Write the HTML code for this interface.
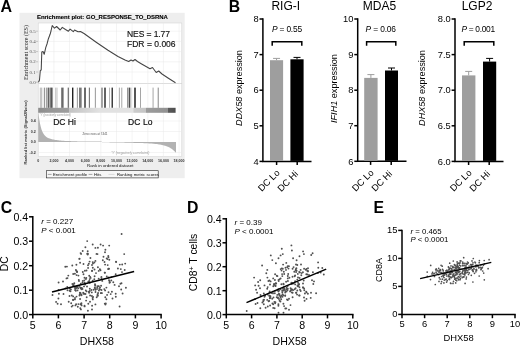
<!DOCTYPE html>
<html><head><meta charset="utf-8"><title>Figure</title>
<style>
html,body{margin:0;padding:0;background:#fff;}
body{width:520px;height:345px;overflow:hidden;}
svg{display:block;font-family:"Liberation Sans",sans-serif;}
</style></head>
<body>
<svg width="520" height="345" viewBox="0 0 520 345">
<rect width="520" height="345" fill="#fff"/>
<defs><filter id="soft" x="-2%" y="-2%" width="104%" height="104%"><feGaussianBlur stdDeviation="0.42"/></filter></defs>
<g id="panelA">
<text x="0.6" y="11.6" font-size="16" font-weight="bold">A</text>
<g filter="url(#soft)">
<rect x="19.5" y="12.8" width="165.2" height="165.4" fill="#eeeeee"/>
<text x="102.4" y="19" font-size="6.0" font-weight="bold" text-anchor="middle" fill="#000" stroke="#000" stroke-width="0.12" textLength="131" lengthAdjust="spacingAndGlyphs">Enrichment plot: GO_RESPONSE_TO_DSRNA</text>
<rect x="38.2" y="23" width="143.60000000000002" height="60.4" fill="#fff" stroke="#d0d0d0" stroke-width="0.5"/>
<text x="35.6" y="83.8" font-size="4.9" text-anchor="end" fill="#555" font-family="Liberation Serif, serif">0.0</text>
<line x1="36" x2="38.2" y1="82.2" y2="82.2" stroke="#888" stroke-width="0.4"/>
<text x="35.6" y="73.6" font-size="4.9" text-anchor="end" fill="#555" font-family="Liberation Serif, serif">0.1</text>
<line x1="36" x2="38.2" y1="72.0" y2="72.0" stroke="#888" stroke-width="0.4"/>
<text x="35.6" y="63.4" font-size="4.9" text-anchor="end" fill="#555" font-family="Liberation Serif, serif">0.2</text>
<line x1="36" x2="38.2" y1="61.8" y2="61.8" stroke="#888" stroke-width="0.4"/>
<text x="35.6" y="53.2" font-size="4.9" text-anchor="end" fill="#555" font-family="Liberation Serif, serif">0.3</text>
<line x1="36" x2="38.2" y1="51.6" y2="51.6" stroke="#888" stroke-width="0.4"/>
<text x="35.6" y="43.0" font-size="4.9" text-anchor="end" fill="#555" font-family="Liberation Serif, serif">0.4</text>
<line x1="36" x2="38.2" y1="41.4" y2="41.4" stroke="#888" stroke-width="0.4"/>
<text x="35.6" y="32.8" font-size="4.9" text-anchor="end" fill="#555" font-family="Liberation Serif, serif">0.5</text>
<line x1="36" x2="38.2" y1="31.2" y2="31.2" stroke="#888" stroke-width="0.4"/>
<text transform="translate(28.2,52.5) rotate(-90)" font-size="6.0" text-anchor="middle" fill="#222" font-family="Liberation Serif, serif" textLength="55" lengthAdjust="spacingAndGlyphs">Enrichment score (ES)</text>
<rect x="38.2" y="83.6" width="143.60000000000002" height="73" fill="#fff" stroke="#d0d0d0" stroke-width="0.5"/>
<g stroke="#e8e8e8" stroke-width="0.5"><line x1="38.2" x2="181.8" y1="72.0" y2="72.0"/><line x1="38.2" x2="181.8" y1="61.8" y2="61.8"/><line x1="38.2" x2="181.8" y1="51.6" y2="51.6"/><line x1="38.2" x2="181.8" y1="41.4" y2="41.4"/><line x1="38.2" x2="181.8" y1="31.2" y2="31.2"/><line x1="53.9" x2="53.9" y1="23" y2="83.4"/><line x1="53.9" x2="53.9" y1="83.6" y2="156.6"/><line x1="69.5" x2="69.5" y1="23" y2="83.4"/><line x1="69.5" x2="69.5" y1="83.6" y2="156.6"/><line x1="85.2" x2="85.2" y1="23" y2="83.4"/><line x1="85.2" x2="85.2" y1="83.6" y2="156.6"/><line x1="100.8" x2="100.8" y1="23" y2="83.4"/><line x1="100.8" x2="100.8" y1="83.6" y2="156.6"/><line x1="116.5" x2="116.5" y1="23" y2="83.4"/><line x1="116.5" x2="116.5" y1="83.6" y2="156.6"/><line x1="132.1" x2="132.1" y1="23" y2="83.4"/><line x1="132.1" x2="132.1" y1="83.6" y2="156.6"/><line x1="147.8" x2="147.8" y1="23" y2="83.4"/><line x1="147.8" x2="147.8" y1="83.6" y2="156.6"/><line x1="163.4" x2="163.4" y1="23" y2="83.4"/><line x1="163.4" x2="163.4" y1="83.6" y2="156.6"/><line x1="179.1" x2="179.1" y1="23" y2="83.4"/><line x1="179.1" x2="179.1" y1="83.6" y2="156.6"/><line x1="38.2" x2="181.8" y1="121" y2="121"/><line x1="38.2" x2="181.8" y1="131.5" y2="131.5"/><line x1="38.2" x2="181.8" y1="152.5" y2="152.5"/></g>
<path d="M38.5,82.2 L39.5,80 L40.3,70.5 L41.2,70 L41.8,52 L43,51.5 L44.2,54.3 L45.8,47.4 L47,44 L48.4,38.7 L50.1,34.3 L51,31 L52.2,25.6 L54.5,28.2 L56.6,26.5 L60.2,30 L62.3,27.4 L65.5,29.5 L68.4,31.2 L70.1,29.1 L73.3,31.7 L74.5,30 L78,31.7 L80.5,31.5 L84,33.5 L87.5,36 L96.2,42.2 L108,50.3 L118,56.5 L125,60 L128.7,61.5 L131,60 L133,61 L135,59.5 L137.5,61.5 L141.2,63.7 L150,68.7 L152.5,67.5 L156.2,72.5 L158.7,71 L162,74 L168,78 L175.5,82.8" fill="none" stroke="#444" stroke-width="1.05" stroke-linejoin="round"/>
<text x="127" y="36.6" font-size="8.5" fill="#111" stroke="#111" stroke-width="0.15" textLength="43" lengthAdjust="spacing">NES = 1.77</text>
<text x="127" y="47.1" font-size="8.5" fill="#111" stroke="#111" stroke-width="0.15" textLength="48.6" lengthAdjust="spacing">FDR = 0.006</text>
<rect x="39.8" y="87.6" width="2.5" height="20.3" fill="#c4c4c4"/><rect x="43.9" y="87.6" width="0.7" height="20.3" fill="#555"/><rect x="45.9" y="87.6" width="0.7" height="20.3" fill="#6a6a6a"/><rect x="47.7" y="87.6" width="1.0" height="20.3" fill="#222"/><rect x="49.6" y="87.6" width="0.8" height="20.3" fill="#333"/><rect x="50.7" y="87.6" width="1.0" height="20.3" fill="#111"/><rect x="51.9" y="87.6" width="0.7" height="20.3" fill="#555"/><rect x="55.5" y="87.6" width="0.6" height="20.3" fill="#9a9a9a"/><rect x="56.7" y="87.6" width="0.6" height="20.3" fill="#9a9a9a"/><rect x="61.2" y="87.6" width="2.4" height="20.3" fill="#6a6a6a"/><rect x="67.8" y="87.6" width="0.8" height="20.3" fill="#222"/><rect x="72.0" y="87.6" width="1.4" height="20.3" fill="#222"/><rect x="76.9" y="87.6" width="0.7" height="20.3" fill="#6a6a6a"/><rect x="79.4" y="87.6" width="1.2" height="20.3" fill="#222"/><rect x="81.4" y="87.6" width="0.6" height="20.3" fill="#6a6a6a"/><rect x="84.0" y="87.6" width="2.0" height="20.3" fill="#6a6a6a"/><rect x="88.9" y="87.6" width="0.7" height="20.3" fill="#222"/><rect x="94.9" y="87.6" width="0.7" height="20.3" fill="#6a6a6a"/><rect x="101.6" y="87.6" width="0.8" height="20.3" fill="#222"/><rect x="104.3" y="87.6" width="1.4" height="20.3" fill="#222"/><rect x="109.2" y="87.6" width="0.7" height="20.3" fill="#9a9a9a"/><rect x="111.6" y="87.6" width="1.2" height="20.3" fill="#111"/><rect x="118.9" y="87.6" width="0.7" height="20.3" fill="#808080"/><rect x="121.5" y="87.6" width="0.7" height="20.3" fill="#808080"/><rect x="127.4" y="87.6" width="0.8" height="20.3" fill="#555"/><rect x="128.8" y="87.6" width="1.0" height="20.3" fill="#222"/><rect x="130.5" y="87.6" width="0.7" height="20.3" fill="#808080"/><rect x="134.3" y="87.6" width="1.4" height="20.3" fill="#111"/><rect x="140.3" y="87.6" width="0.7" height="20.3" fill="#808080"/><rect x="152.7" y="87.6" width="0.7" height="20.3" fill="#808080"/><rect x="157.8" y="87.6" width="0.7" height="20.3" fill="#555"/>
<defs><linearGradient id="gb" gradientUnits="userSpaceOnUse" x1="38.2" x2="175.6" y1="0" y2="0"><stop offset="0.0000" stop-color="#8c8c8c"/><stop offset="0.0859" stop-color="#969696"/><stop offset="0.2205" stop-color="#9e9e9e"/><stop offset="0.2278" stop-color="#c4c4c4"/><stop offset="0.3406" stop-color="#d2d2d2"/><stop offset="0.4498" stop-color="#e2e2e2"/><stop offset="0.6900" stop-color="#e2e2e2"/><stop offset="0.6972" stop-color="#cccccc"/><stop offset="0.7846" stop-color="#c4c4c4"/><stop offset="0.7882" stop-color="#9c9c9c"/><stop offset="0.9447" stop-color="#929292"/><stop offset="0.9483" stop-color="#5a5a5a"/><stop offset="1.0000" stop-color="#4e4e4e"/></linearGradient></defs>
<rect x="38.2" y="107.8" width="137.4" height="5" fill="url(#gb)"/>
<path d="M38.2,142.0 L38.2,113.2 L38.4,113.2 L39.2,118.9 L40.0,123.6 L40.8,127.1 L41.6,129.7 L42.4,131.8 L43.2,133.3 L44.0,134.6 L44.8,135.5 L45.6,136.3 L46.4,136.9 L47.2,137.5 L48.0,137.9 L48.8,138.2 L49.6,138.6 L50.4,138.8 L51.2,139.1 L52.0,139.3 L52.8,139.5 L53.6,139.6 L54.4,139.8 L55.2,139.9 L56.0,140.0 L56.8,140.1 L57.6,140.2 L58.4,140.3 L59.2,140.4 L60.0,140.5 L60.8,140.6 L61.6,140.7 L62.4,140.7 L63.2,140.8 L64.0,140.8 L64.8,140.9 L65.6,140.9 L66.4,141.0 L67.2,141.0 L68.0,141.0 L68.8,141.1 L69.6,141.1 L70.4,141.1 L71.2,141.2 L72.0,141.2 L72.8,141.2 L73.6,141.3 L74.4,141.3 L75.2,141.3 L76.0,141.3 L76.8,141.3 L77.6,141.4 L78.4,141.4 L79.2,141.4 L80.0,141.4 L80.8,141.4 L81.6,141.4 L82.4,141.4 L83.2,141.5 L84.0,141.5 L84.8,141.5 L85.6,141.5 L86.4,141.5 L87.2,141.5 L88.0,141.5 L88.8,141.5 L89.6,141.5 L90.4,141.6 L91.2,141.6 L92.0,141.6 L92.8,141.6 L93.6,141.6 L94.4,141.6 L95.2,141.6 L96.0,141.6 L96.8,141.6 L97.6,141.6 L98.4,141.6 L99.2,141.6 L100.0,141.6 L100.8,141.6 L101.6,141.7 L102,141.8 L102,142.0 Z" fill="#b2b2b2"/>
<path d="M102,142.0 L102.0,142.2 L103.0,142.2 L104.0,142.2 L105.0,142.3 L106.0,142.3 L107.0,142.3 L108.0,142.3 L109.0,142.3 L110.0,142.4 L111.0,142.4 L112.0,142.4 L113.0,142.4 L114.0,142.4 L115.0,142.5 L116.0,142.5 L117.0,142.5 L118.0,142.5 L119.0,142.5 L120.0,142.5 L121.0,142.6 L122.0,142.6 L123.0,142.6 L124.0,142.6 L125.0,142.7 L126.0,142.7 L127.0,142.7 L128.0,142.7 L129.0,142.7 L130.0,142.8 L131.0,142.8 L132.0,142.8 L133.0,142.8 L134.0,142.9 L135.0,142.9 L136.0,142.9 L137.0,142.9 L138.0,143.0 L139.0,143.0 L140.0,143.0 L141.0,143.1 L142.0,143.1 L143.0,143.1 L144.0,143.2 L145.0,143.2 L146.0,143.2 L147.0,143.3 L148.0,143.3 L149.0,143.4 L150.0,143.5 L151.0,143.5 L152.0,143.6 L153.0,143.7 L154.0,143.8 L155.0,143.9 L156.0,144.0 L157.0,144.1 L158.0,144.2 L159.0,144.4 L160.0,144.5 L161.0,144.7 L162.0,144.9 L163.0,145.2 L164.0,145.4 L165.0,145.7 L166.0,146.0 L167.0,146.4 L168.0,146.8 L169.0,147.3 L170.0,147.8 L171.0,148.4 L172.0,149.1 L173.0,149.9 L174.0,150.7 L175.0,151.7 L176.0,152.8 L176,142.0 Z" fill="#b2b2b2"/>
<text x="39.6" y="116.4" font-size="2.9" fill="#9a9a9a" font-style="italic">'Y' (positively correlated)</text>
<text x="111.3" y="154.2" font-size="2.9" fill="#9a9a9a" font-style="italic" textLength="38" lengthAdjust="spacingAndGlyphs">'Y' (negatively correlated)</text>
<text x="82.5" y="135.4" font-size="3.0" fill="#555">Zero cross at 7441</text>
<text x="53.2" y="125" font-size="8.5" fill="#111" stroke="#111" stroke-width="0.2" textLength="22.6" lengthAdjust="spacing">DC Hi</text>
<text x="128" y="124.8" font-size="8.5" fill="#111" stroke="#111" stroke-width="0.2" textLength="24.6" lengthAdjust="spacing">DC Lo</text>
<text x="35.8" y="122.3" font-size="3.6" text-anchor="end" fill="#333" font-weight="bold">0.4</text>
<text x="35.8" y="132.8" font-size="3.6" text-anchor="end" fill="#333" font-weight="bold">0.2</text>
<text x="35.8" y="143.3" font-size="3.6" text-anchor="end" fill="#333" font-weight="bold">0.0</text>
<text x="35.8" y="153.8" font-size="3.6" text-anchor="end" fill="#333" font-weight="bold">-0.2</text>
<text transform="translate(27.4,132.5) rotate(-90)" font-size="4.1" font-weight="bold" text-anchor="middle" fill="#333" textLength="64" lengthAdjust="spacingAndGlyphs">Ranked list metric (Signal2Noise)</text>
<text x="38.2" y="161.5" font-size="3.6" text-anchor="middle" fill="#333" font-weight="bold">0</text>
<text x="53.9" y="161.5" font-size="3.6" text-anchor="middle" fill="#333" font-weight="bold">2,000</text>
<text x="69.5" y="161.5" font-size="3.6" text-anchor="middle" fill="#333" font-weight="bold">4,000</text>
<text x="85.2" y="161.5" font-size="3.6" text-anchor="middle" fill="#333" font-weight="bold">6,000</text>
<text x="100.8" y="161.5" font-size="3.6" text-anchor="middle" fill="#333" font-weight="bold">8,000</text>
<text x="116.5" y="161.5" font-size="3.6" text-anchor="middle" fill="#333" font-weight="bold">10,000</text>
<text x="132.1" y="161.5" font-size="3.6" text-anchor="middle" fill="#333" font-weight="bold">12,000</text>
<text x="147.8" y="161.5" font-size="3.6" text-anchor="middle" fill="#333" font-weight="bold">14,000</text>
<text x="163.4" y="161.5" font-size="3.6" text-anchor="middle" fill="#333" font-weight="bold">16,000</text>
<text x="179.1" y="161.5" font-size="3.6" text-anchor="middle" fill="#333" font-weight="bold">18,000</text>
<text x="110.2" y="167.4" font-size="4.35" text-anchor="middle" fill="#111">Rank in ordered dataset</text>
<rect x="46.4" y="170.7" width="111.8" height="7.2" fill="#f6f6f6" stroke="#222" stroke-width="0.6"/>
<g stroke-width="0.5"><line x1="47.8" x2="51.6" y1="174.4" y2="174.4" stroke="#555"/><line x1="88.6" x2="92.4" y1="174.4" y2="174.4" stroke="#555"/><line x1="108.5" x2="114.5" y1="174.4" y2="174.4" stroke="#bbb"/></g>
<text x="52.9" y="175.9" font-size="4.25" fill="#111">Enrichment profile</text>
<text x="94" y="175.9" font-size="4.25" fill="#111">Hits</text>
<text x="116.9" y="175.9" font-size="4.25" fill="#111">Ranking metric scores</text>
</g>
</g>
<g id="panelB">
<text x="228.7" y="12.1" font-size="15.8" font-weight="bold">B</text>
<text x="285.8" y="10.4" font-size="12" text-anchor="middle">RIG-I</text>
<path d="M262.9,18.25 V161.4 H311.5" fill="none" stroke="#000" stroke-width="1.5"/>
<line x1="259.5" x2="262.9" y1="19.0" y2="19.0" stroke="#000" stroke-width="1.5"/>
<text x="258.59999999999997" y="22.2" font-size="9.3" text-anchor="end">8</text>
<line x1="259.5" x2="262.9" y1="54.6" y2="54.6" stroke="#000" stroke-width="1.5"/>
<text x="258.59999999999997" y="57.8" font-size="9.3" text-anchor="end">7</text>
<line x1="259.5" x2="262.9" y1="90.2" y2="90.2" stroke="#000" stroke-width="1.5"/>
<text x="258.59999999999997" y="93.4" font-size="9.3" text-anchor="end">6</text>
<line x1="259.5" x2="262.9" y1="125.8" y2="125.8" stroke="#000" stroke-width="1.5"/>
<text x="258.59999999999997" y="129.0" font-size="9.3" text-anchor="end">5</text>
<line x1="259.5" x2="262.9" y1="161.4" y2="161.4" stroke="#000" stroke-width="1.5"/>
<text x="258.59999999999997" y="164.6" font-size="9.3" text-anchor="end">4</text>
<line x1="276.6" x2="276.6" y1="161.4" y2="165.0" stroke="#000" stroke-width="1.5"/>
<line x1="297.2" x2="297.2" y1="161.4" y2="165.0" stroke="#000" stroke-width="1.5"/>
<rect x="270" y="60.2" width="13.100000000000023" height="100.7" fill="#9e9e9e"/>
<rect x="290.4" y="59.3" width="13.200000000000045" height="101.60000000000001" fill="#000"/>
<path d="M276.55,60.2 V58.4 M273.05,58.4 H280.05" stroke="#9e9e9e" stroke-width="1" fill="none"/>
<path d="M297.0,59.3 V57.4 M293.5,57.4 H300.5" stroke="#000" stroke-width="1" fill="none"/>
<path d="M272.2,45.8 V41.8 H301.8 V45.8" fill="none" stroke="#000" stroke-width="1.5"/>
<text x="287.1" y="32.3" font-size="8.4" text-anchor="middle" textLength="30" lengthAdjust="spacing"><tspan font-style="italic">P</tspan> = 0.55</text>
<text transform="translate(280.40000000000003,173.4) rotate(-45)" font-size="9.3" text-anchor="end">DC Lo</text>
<text transform="translate(298.8,174.6) rotate(-45)" font-size="9.3" text-anchor="end">DC Hi</text>
<text transform="translate(242.4,88) rotate(-90)" font-size="9.1" text-anchor="middle"><tspan font-style="italic">DDX58</tspan> expression</text>
<text x="379.5" y="10.4" font-size="12" text-anchor="middle">MDA5</text>
<path d="M357.7,18.25 V161.3 H406.5" fill="none" stroke="#000" stroke-width="1.5"/>
<line x1="354.3" x2="357.7" y1="19.0" y2="19.0" stroke="#000" stroke-width="1.5"/>
<text x="353.4" y="22.2" font-size="9.3" text-anchor="end">10</text>
<line x1="354.3" x2="357.7" y1="54.6" y2="54.6" stroke="#000" stroke-width="1.5"/>
<text x="353.4" y="57.8" font-size="9.3" text-anchor="end">9</text>
<line x1="354.3" x2="357.7" y1="90.2" y2="90.2" stroke="#000" stroke-width="1.5"/>
<text x="353.4" y="93.4" font-size="9.3" text-anchor="end">8</text>
<line x1="354.3" x2="357.7" y1="125.7" y2="125.7" stroke="#000" stroke-width="1.5"/>
<text x="353.4" y="128.9" font-size="9.3" text-anchor="end">7</text>
<line x1="354.3" x2="357.7" y1="161.3" y2="161.3" stroke="#000" stroke-width="1.5"/>
<text x="353.4" y="164.5" font-size="9.3" text-anchor="end">6</text>
<line x1="370.6" x2="370.6" y1="161.3" y2="164.9" stroke="#000" stroke-width="1.5"/>
<line x1="391.2" x2="391.2" y1="161.3" y2="164.9" stroke="#000" stroke-width="1.5"/>
<rect x="364.2" y="77.9" width="13.400000000000034" height="82.9" fill="#9e9e9e"/>
<rect x="385" y="70.5" width="13" height="90.30000000000001" fill="#000"/>
<path d="M370.9,77.9 V74.6 M367.4,74.6 H374.4" stroke="#9e9e9e" stroke-width="1" fill="none"/>
<path d="M391.5,70.5 V68.0 M388.0,68.0 H395.0" stroke="#000" stroke-width="1" fill="none"/>
<path d="M366.6,45.8 V41.8 H395.8 V45.8" fill="none" stroke="#000" stroke-width="1.5"/>
<text x="380.8" y="32.3" font-size="8.4" text-anchor="middle" textLength="30.4" lengthAdjust="spacing"><tspan font-style="italic">P</tspan> = 0.06</text>
<text transform="translate(374.40000000000003,173.3) rotate(-45)" font-size="9.3" text-anchor="end">DC Lo</text>
<text transform="translate(392.8,174.5) rotate(-45)" font-size="9.3" text-anchor="end">DC Hi</text>
<text transform="translate(337.4,88.6) rotate(-90)" font-size="9.1" text-anchor="middle"><tspan font-style="italic">IFIH1</tspan> expression</text>
<text x="477" y="10.4" font-size="12" text-anchor="middle">LGP2</text>
<path d="M455,18.25 V161.4 H503.5" fill="none" stroke="#000" stroke-width="1.5"/>
<line x1="451.6" x2="455" y1="19.0" y2="19.0" stroke="#000" stroke-width="1.5"/>
<text x="450.7" y="22.2" font-size="9.3" text-anchor="end">8.0</text>
<line x1="451.6" x2="455" y1="54.6" y2="54.6" stroke="#000" stroke-width="1.5"/>
<text x="450.7" y="57.8" font-size="9.3" text-anchor="end">7.5</text>
<line x1="451.6" x2="455" y1="90.2" y2="90.2" stroke="#000" stroke-width="1.5"/>
<text x="450.7" y="93.4" font-size="9.3" text-anchor="end">7.0</text>
<line x1="451.6" x2="455" y1="125.8" y2="125.8" stroke="#000" stroke-width="1.5"/>
<text x="450.7" y="129.0" font-size="9.3" text-anchor="end">6.5</text>
<line x1="451.6" x2="455" y1="161.4" y2="161.4" stroke="#000" stroke-width="1.5"/>
<text x="450.7" y="164.6" font-size="9.3" text-anchor="end">6.0</text>
<line x1="468.6" x2="468.6" y1="161.4" y2="165.0" stroke="#000" stroke-width="1.5"/>
<line x1="489.2" x2="489.2" y1="161.4" y2="165.0" stroke="#000" stroke-width="1.5"/>
<rect x="462" y="75.4" width="13.399999999999977" height="85.5" fill="#9e9e9e"/>
<rect x="483" y="61.6" width="13.199999999999989" height="99.30000000000001" fill="#000"/>
<path d="M468.7,75.4 V71.4 M465.2,71.4 H472.2" stroke="#9e9e9e" stroke-width="1" fill="none"/>
<path d="M489.6,61.6 V58.4 M486.1,58.4 H493.1" stroke="#000" stroke-width="1" fill="none"/>
<path d="M464.2,45.8 V41.8 H493.8 V45.8" fill="none" stroke="#000" stroke-width="1.5"/>
<text x="478.3" y="32.3" font-size="8.4" text-anchor="middle" textLength="33.6" lengthAdjust="spacing"><tspan font-style="italic">P</tspan> = 0.001</text>
<text transform="translate(472.40000000000003,173.4) rotate(-45)" font-size="9.3" text-anchor="end">DC Lo</text>
<text transform="translate(490.8,174.6) rotate(-45)" font-size="9.3" text-anchor="end">DC Hi</text>
<text transform="translate(425.2,88) rotate(-90)" font-size="9.1" text-anchor="middle"><tspan font-style="italic">DHX58</tspan> expression</text>
</g>
<g id="panelC">
<text x="0.8" y="212.7" font-size="15.8" font-weight="bold">C</text>
<path d="M32.8,216.05 V314.6 H161.8" fill="none" stroke="#000" stroke-width="1.5"/>
<line x1="28.999999999999996" x2="32.8" y1="216.8" y2="216.8" stroke="#000" stroke-width="1.5"/>
<text x="28.199999999999996" y="220.7" font-size="10.6" text-anchor="end">0.4</text>
<line x1="28.999999999999996" x2="32.8" y1="241.2" y2="241.2" stroke="#000" stroke-width="1.5"/>
<text x="28.199999999999996" y="245.2" font-size="10.6" text-anchor="end">0.3</text>
<line x1="28.999999999999996" x2="32.8" y1="265.7" y2="265.7" stroke="#000" stroke-width="1.5"/>
<text x="28.199999999999996" y="269.6" font-size="10.6" text-anchor="end">0.2</text>
<line x1="28.999999999999996" x2="32.8" y1="290.2" y2="290.2" stroke="#000" stroke-width="1.5"/>
<text x="28.199999999999996" y="294.1" font-size="10.6" text-anchor="end">0.1</text>
<line x1="28.999999999999996" x2="32.8" y1="314.6" y2="314.6" stroke="#000" stroke-width="1.5"/>
<text x="28.199999999999996" y="318.5" font-size="10.6" text-anchor="end">0.0</text>
<line x1="32.8" x2="32.8" y1="314.6" y2="318.40000000000003" stroke="#000" stroke-width="1.5"/>
<text x="32.8" y="329" font-size="10.6" text-anchor="middle">5</text>
<line x1="58.4" x2="58.4" y1="314.6" y2="318.40000000000003" stroke="#000" stroke-width="1.5"/>
<text x="58.4" y="329" font-size="10.6" text-anchor="middle">6</text>
<line x1="84.1" x2="84.1" y1="314.6" y2="318.40000000000003" stroke="#000" stroke-width="1.5"/>
<text x="84.1" y="329" font-size="10.6" text-anchor="middle">7</text>
<line x1="109.7" x2="109.7" y1="314.6" y2="318.40000000000003" stroke="#000" stroke-width="1.5"/>
<text x="109.7" y="329" font-size="10.6" text-anchor="middle">8</text>
<line x1="135.4" x2="135.4" y1="314.6" y2="318.40000000000003" stroke="#000" stroke-width="1.5"/>
<text x="135.4" y="329" font-size="10.6" text-anchor="middle">9</text>
<line x1="161.1" x2="161.1" y1="314.6" y2="318.40000000000003" stroke="#000" stroke-width="1.5"/>
<text x="161.1" y="329" font-size="10.6" text-anchor="middle">10</text>
<g fill="#505050"><circle cx="120.8" cy="269.1" r="0.95"/><circle cx="92.1" cy="305.7" r="0.95"/><circle cx="85.8" cy="290.4" r="0.95"/><circle cx="89.1" cy="292.8" r="0.95"/><circle cx="89.8" cy="291.0" r="0.95"/><circle cx="68.3" cy="275.6" r="0.95"/><circle cx="105.4" cy="249.8" r="0.95"/><circle cx="91.4" cy="290.0" r="0.95"/><circle cx="81.3" cy="304.1" r="0.95"/><circle cx="107.1" cy="294.9" r="0.95"/><circle cx="70.5" cy="291.3" r="0.95"/><circle cx="115.7" cy="274.2" r="0.95"/><circle cx="73.2" cy="296.4" r="0.95"/><circle cx="101.1" cy="285.7" r="0.95"/><circle cx="77.5" cy="290.4" r="0.95"/><circle cx="103.1" cy="245.6" r="0.95"/><circle cx="69.5" cy="296.0" r="0.95"/><circle cx="74.9" cy="299.4" r="0.95"/><circle cx="109.5" cy="282.8" r="0.95"/><circle cx="63.0" cy="281.5" r="0.95"/><circle cx="84.5" cy="305.7" r="0.95"/><circle cx="80.4" cy="293.8" r="0.95"/><circle cx="75.7" cy="287.9" r="0.95"/><circle cx="52.5" cy="295.0" r="0.95"/><circle cx="107.7" cy="265.1" r="0.95"/><circle cx="109.3" cy="259.7" r="0.95"/><circle cx="115.7" cy="293.7" r="0.95"/><circle cx="104.8" cy="303.6" r="0.95"/><circle cx="80.3" cy="308.2" r="0.95"/><circle cx="108.3" cy="256.0" r="0.95"/><circle cx="87.2" cy="253.8" r="0.95"/><circle cx="79.1" cy="286.0" r="0.95"/><circle cx="93.1" cy="296.9" r="0.95"/><circle cx="97.9" cy="247.7" r="0.95"/><circle cx="73.2" cy="274.0" r="0.95"/><circle cx="87.9" cy="253.7" r="0.95"/><circle cx="98.7" cy="270.9" r="0.95"/><circle cx="101.4" cy="278.1" r="0.95"/><circle cx="66.9" cy="266.6" r="0.95"/><circle cx="67.3" cy="287.0" r="0.95"/><circle cx="100.9" cy="293.1" r="0.95"/><circle cx="93.0" cy="263.4" r="0.95"/><circle cx="90.1" cy="295.5" r="0.95"/><circle cx="80.5" cy="293.0" r="0.95"/><circle cx="74.3" cy="283.3" r="0.95"/><circle cx="80.8" cy="288.5" r="0.95"/><circle cx="102.0" cy="293.1" r="0.95"/><circle cx="85.4" cy="247.2" r="0.95"/><circle cx="105.3" cy="297.3" r="0.95"/><circle cx="89.2" cy="275.7" r="0.95"/><circle cx="111.4" cy="277.1" r="0.95"/><circle cx="81.5" cy="295.2" r="0.95"/><circle cx="101.4" cy="276.9" r="0.95"/><circle cx="81.8" cy="289.2" r="0.95"/><circle cx="83.5" cy="274.3" r="0.95"/><circle cx="78.8" cy="280.0" r="0.95"/><circle cx="104.9" cy="272.7" r="0.95"/><circle cx="76.4" cy="264.8" r="0.95"/><circle cx="79.0" cy="281.1" r="0.95"/><circle cx="77.8" cy="306.8" r="0.95"/><circle cx="94.3" cy="279.3" r="0.95"/><circle cx="89.2" cy="281.0" r="0.95"/><circle cx="79.5" cy="295.6" r="0.95"/><circle cx="87.7" cy="251.2" r="0.95"/><circle cx="104.3" cy="289.1" r="0.95"/><circle cx="100.0" cy="289.4" r="0.95"/><circle cx="82.8" cy="272.0" r="0.95"/><circle cx="81.6" cy="305.4" r="0.95"/><circle cx="75.2" cy="287.3" r="0.95"/><circle cx="92.7" cy="262.1" r="0.95"/><circle cx="78.4" cy="275.6" r="0.95"/><circle cx="97.7" cy="286.2" r="0.95"/><circle cx="104.7" cy="272.6" r="0.95"/><circle cx="75.9" cy="270.0" r="0.95"/><circle cx="69.8" cy="288.5" r="0.95"/><circle cx="90.6" cy="277.9" r="0.95"/><circle cx="78.2" cy="288.2" r="0.95"/><circle cx="88.1" cy="267.9" r="0.95"/><circle cx="77.0" cy="287.2" r="0.95"/><circle cx="86.1" cy="300.6" r="0.95"/><circle cx="65.3" cy="266.8" r="0.95"/><circle cx="72.4" cy="284.0" r="0.95"/><circle cx="105.1" cy="290.4" r="0.95"/><circle cx="83.2" cy="292.8" r="0.95"/><circle cx="88.3" cy="303.7" r="0.95"/><circle cx="69.6" cy="290.7" r="0.95"/><circle cx="108.1" cy="269.1" r="0.95"/><circle cx="119.8" cy="264.6" r="0.95"/><circle cx="81.9" cy="288.5" r="0.95"/><circle cx="56.1" cy="301.9" r="0.95"/><circle cx="73.2" cy="285.6" r="0.95"/><circle cx="101.5" cy="290.0" r="0.95"/><circle cx="80.5" cy="304.2" r="0.95"/><circle cx="88.3" cy="281.8" r="0.95"/><circle cx="98.1" cy="293.0" r="0.95"/><circle cx="124.2" cy="254.1" r="0.95"/><circle cx="88.9" cy="291.7" r="0.95"/><circle cx="85.1" cy="284.5" r="0.95"/><circle cx="90.2" cy="276.9" r="0.95"/><circle cx="103.5" cy="256.7" r="0.95"/><circle cx="109.9" cy="282.3" r="0.95"/><circle cx="97.1" cy="288.9" r="0.95"/><circle cx="80.6" cy="253.1" r="0.95"/><circle cx="82.7" cy="251.0" r="0.95"/><circle cx="84.6" cy="282.7" r="0.95"/><circle cx="109.0" cy="280.1" r="0.95"/><circle cx="97.2" cy="287.3" r="0.95"/><circle cx="82.5" cy="288.9" r="0.95"/><circle cx="79.5" cy="258.6" r="0.95"/><circle cx="87.7" cy="254.6" r="0.95"/><circle cx="100.0" cy="287.4" r="0.95"/><circle cx="109.0" cy="268.7" r="0.95"/><circle cx="85.9" cy="279.0" r="0.95"/><circle cx="95.6" cy="289.7" r="0.95"/><circle cx="92.8" cy="299.4" r="0.95"/><circle cx="87.2" cy="241.1" r="0.95"/><circle cx="108.6" cy="268.8" r="0.95"/><circle cx="109.2" cy="245.6" r="0.95"/><circle cx="100.6" cy="244.5" r="0.95"/><circle cx="108.6" cy="277.5" r="0.95"/><circle cx="119.6" cy="306.5" r="0.95"/><circle cx="80.8" cy="283.6" r="0.95"/><circle cx="75.1" cy="290.0" r="0.95"/><circle cx="79.7" cy="294.6" r="0.95"/><circle cx="89.6" cy="261.6" r="0.95"/><circle cx="86.5" cy="270.5" r="0.95"/><circle cx="96.5" cy="253.9" r="0.95"/><circle cx="66.5" cy="278.4" r="0.95"/><circle cx="92.6" cy="298.0" r="0.95"/><circle cx="108.5" cy="292.2" r="0.95"/><circle cx="117.9" cy="268.5" r="0.95"/><circle cx="102.3" cy="280.9" r="0.95"/><circle cx="105.8" cy="303.5" r="0.95"/><circle cx="91.8" cy="292.4" r="0.95"/><circle cx="95.3" cy="285.3" r="0.95"/><circle cx="101.0" cy="293.1" r="0.95"/><circle cx="121.6" cy="234.0" r="0.95"/><circle cx="87.0" cy="286.5" r="0.95"/><circle cx="95.4" cy="260.9" r="0.95"/><circle cx="122.6" cy="293.5" r="0.95"/><circle cx="80.1" cy="299.0" r="0.95"/><circle cx="71.7" cy="306.6" r="0.95"/><circle cx="96.7" cy="297.3" r="0.95"/><circle cx="116.0" cy="261.7" r="0.95"/><circle cx="73.1" cy="299.8" r="0.95"/><circle cx="80.1" cy="262.7" r="0.95"/><circle cx="76.1" cy="304.3" r="0.95"/><circle cx="89.7" cy="279.1" r="0.95"/><circle cx="79.4" cy="258.9" r="0.95"/><circle cx="94.6" cy="276.2" r="0.95"/><circle cx="76.0" cy="288.6" r="0.95"/><circle cx="87.9" cy="310.8" r="0.95"/><circle cx="95.4" cy="304.4" r="0.95"/><circle cx="90.0" cy="301.8" r="0.95"/><circle cx="124.7" cy="270.0" r="0.95"/><circle cx="105.1" cy="264.6" r="0.95"/><circle cx="84.9" cy="270.7" r="0.95"/><circle cx="92.1" cy="270.8" r="0.95"/><circle cx="106.4" cy="299.3" r="0.95"/><circle cx="95.4" cy="247.9" r="0.95"/><circle cx="80.9" cy="309.4" r="0.95"/><circle cx="86.6" cy="291.4" r="0.95"/><circle cx="97.6" cy="294.3" r="0.95"/><circle cx="92.0" cy="309.5" r="0.95"/><circle cx="105.0" cy="252.2" r="0.95"/><circle cx="112.5" cy="298.5" r="0.95"/><circle cx="95.3" cy="285.6" r="0.95"/><circle cx="73.7" cy="284.1" r="0.95"/><circle cx="92.8" cy="267.7" r="0.95"/><circle cx="92.7" cy="280.8" r="0.95"/><circle cx="57.6" cy="303.8" r="0.95"/><circle cx="82.5" cy="282.5" r="0.95"/><circle cx="90.4" cy="258.0" r="0.95"/><circle cx="75.8" cy="290.8" r="0.95"/><circle cx="94.8" cy="287.5" r="0.95"/><circle cx="98.9" cy="290.6" r="0.95"/><circle cx="114.6" cy="284.9" r="0.95"/><circle cx="109.4" cy="281.0" r="0.95"/><circle cx="115.8" cy="296.7" r="0.95"/><circle cx="99.3" cy="289.0" r="0.95"/><circle cx="94.4" cy="262.5" r="0.95"/><circle cx="71.2" cy="303.3" r="0.95"/><circle cx="73.6" cy="285.8" r="0.95"/><circle cx="58.6" cy="290.0" r="0.95"/><circle cx="68.7" cy="301.8" r="0.95"/><circle cx="84.3" cy="280.5" r="0.95"/><circle cx="79.9" cy="292.8" r="0.95"/><circle cx="89.8" cy="288.8" r="0.95"/><circle cx="92.0" cy="265.0" r="0.95"/><circle cx="125.2" cy="263.6" r="0.95"/><circle cx="91.9" cy="296.0" r="0.95"/><circle cx="92.0" cy="270.9" r="0.95"/><circle cx="111.9" cy="291.8" r="0.95"/><circle cx="94.5" cy="269.5" r="0.95"/><circle cx="122.0" cy="272.1" r="0.95"/><circle cx="81.3" cy="294.7" r="0.95"/><circle cx="84.5" cy="293.8" r="0.95"/><circle cx="104.5" cy="262.0" r="0.95"/><circle cx="102.8" cy="260.2" r="0.95"/><circle cx="82.8" cy="280.9" r="0.95"/><circle cx="84.0" cy="286.4" r="0.95"/><circle cx="111.3" cy="280.4" r="0.95"/><circle cx="58.9" cy="293.7" r="0.95"/><circle cx="78.4" cy="304.1" r="0.95"/><circle cx="77.1" cy="271.7" r="0.95"/><circle cx="119.0" cy="286.3" r="0.95"/><circle cx="107.5" cy="259.1" r="0.95"/><circle cx="70.9" cy="289.4" r="0.95"/><circle cx="89.8" cy="282.8" r="0.95"/><circle cx="63.5" cy="294.0" r="0.95"/><circle cx="108.4" cy="257.3" r="0.95"/><circle cx="121.5" cy="283.2" r="0.95"/><circle cx="122.2" cy="264.5" r="0.95"/><circle cx="67.5" cy="278.1" r="0.95"/><circle cx="84.5" cy="277.8" r="0.95"/><circle cx="88.8" cy="263.8" r="0.95"/><circle cx="94.9" cy="288.1" r="0.95"/><circle cx="106.8" cy="276.4" r="0.95"/><circle cx="83.5" cy="264.0" r="0.95"/><circle cx="83.6" cy="293.8" r="0.95"/><circle cx="81.4" cy="303.2" r="0.95"/><circle cx="81.1" cy="253.9" r="0.95"/><circle cx="75.1" cy="288.2" r="0.95"/><circle cx="71.8" cy="295.5" r="0.95"/><circle cx="116.2" cy="261.9" r="0.95"/><circle cx="80.2" cy="287.4" r="0.95"/><circle cx="76.5" cy="296.6" r="0.95"/><circle cx="75.0" cy="298.0" r="0.95"/><circle cx="96.0" cy="273.1" r="0.95"/><circle cx="98.8" cy="286.2" r="0.95"/><circle cx="67.5" cy="290.3" r="0.95"/><circle cx="74.9" cy="273.8" r="0.95"/><circle cx="99.9" cy="269.2" r="0.95"/><circle cx="84.6" cy="306.4" r="0.95"/><circle cx="106.7" cy="258.4" r="0.95"/><circle cx="65.4" cy="288.4" r="0.95"/><circle cx="110.7" cy="294.1" r="0.95"/><circle cx="120.4" cy="283.8" r="0.95"/><circle cx="72.3" cy="265.5" r="0.95"/><circle cx="95.5" cy="292.0" r="0.95"/><circle cx="105.4" cy="304.5" r="0.95"/><circle cx="121.2" cy="289.5" r="0.95"/><circle cx="95.4" cy="289.3" r="0.95"/><circle cx="97.9" cy="267.2" r="0.95"/><circle cx="76.6" cy="275.1" r="0.95"/><circle cx="85.5" cy="294.0" r="0.95"/><circle cx="86.7" cy="297.3" r="0.95"/><circle cx="77.0" cy="272.0" r="0.95"/><circle cx="88.0" cy="265.3" r="0.95"/><circle cx="97.8" cy="295.7" r="0.95"/><circle cx="58.4" cy="298.5" r="0.95"/><circle cx="95.0" cy="284.3" r="0.95"/><circle cx="76.5" cy="270.9" r="0.95"/><circle cx="61.0" cy="304.3" r="0.95"/><circle cx="92.7" cy="244.5" r="0.95"/><circle cx="97.5" cy="295.5" r="0.95"/><circle cx="100.5" cy="270.2" r="0.95"/><circle cx="106.4" cy="287.6" r="0.95"/><circle cx="77.0" cy="286.7" r="0.95"/><circle cx="97.5" cy="254.1" r="0.95"/><circle cx="125.9" cy="287.8" r="0.95"/><circle cx="81.7" cy="287.9" r="0.95"/><circle cx="86.3" cy="277.9" r="0.95"/><circle cx="98.7" cy="278.6" r="0.95"/><circle cx="113.3" cy="282.3" r="0.95"/><circle cx="72.7" cy="305.6" r="0.95"/><circle cx="73.1" cy="300.0" r="0.95"/><circle cx="58.6" cy="282.5" r="0.95"/><circle cx="93.6" cy="289.8" r="0.95"/><circle cx="75.4" cy="305.4" r="0.95"/></g>
<line x1="52.0" y1="291.9" x2="134.1" y2="271.6" stroke="#000" stroke-width="1.55"/>
<text x="41.3" y="224.3" font-size="8.0"><tspan font-style="italic">r</tspan> = 0.227</text>
<text x="41.3" y="232.9" font-size="8.0"><tspan font-style="italic">P</tspan> &lt; 0.001</text>
<text x="96.9" y="345.1" font-size="10.6" text-anchor="middle">DHX58</text>
<text transform="translate(7.8,263.7) rotate(-90)" font-size="10.3" text-anchor="middle">DC</text>
</g>
<g id="panelD">
<text x="187" y="212.7" font-size="15.8" font-weight="bold">D</text>
<path d="M226.3,218.05 V314.6 H353.55" fill="none" stroke="#000" stroke-width="1.5"/>
<line x1="222.5" x2="226.3" y1="218.8" y2="218.8" stroke="#000" stroke-width="1.5"/>
<text x="221.70000000000002" y="222.7" font-size="10.6" text-anchor="end">0.4</text>
<line x1="222.5" x2="226.3" y1="242.8" y2="242.8" stroke="#000" stroke-width="1.5"/>
<text x="221.70000000000002" y="246.7" font-size="10.6" text-anchor="end">0.3</text>
<line x1="222.5" x2="226.3" y1="266.7" y2="266.7" stroke="#000" stroke-width="1.5"/>
<text x="221.70000000000002" y="270.6" font-size="10.6" text-anchor="end">0.2</text>
<line x1="222.5" x2="226.3" y1="290.7" y2="290.7" stroke="#000" stroke-width="1.5"/>
<text x="221.70000000000002" y="294.6" font-size="10.6" text-anchor="end">0.1</text>
<line x1="222.5" x2="226.3" y1="314.6" y2="314.6" stroke="#000" stroke-width="1.5"/>
<text x="221.70000000000002" y="318.5" font-size="10.6" text-anchor="end">0.0</text>
<line x1="226.3" x2="226.3" y1="314.6" y2="318.40000000000003" stroke="#000" stroke-width="1.5"/>
<text x="226.3" y="329" font-size="10.6" text-anchor="middle">5</text>
<line x1="251.6" x2="251.6" y1="314.6" y2="318.40000000000003" stroke="#000" stroke-width="1.5"/>
<text x="251.6" y="329" font-size="10.6" text-anchor="middle">6</text>
<line x1="276.9" x2="276.9" y1="314.6" y2="318.40000000000003" stroke="#000" stroke-width="1.5"/>
<text x="276.9" y="329" font-size="10.6" text-anchor="middle">7</text>
<line x1="302.2" x2="302.2" y1="314.6" y2="318.40000000000003" stroke="#000" stroke-width="1.5"/>
<text x="302.2" y="329" font-size="10.6" text-anchor="middle">8</text>
<line x1="327.5" x2="327.5" y1="314.6" y2="318.40000000000003" stroke="#000" stroke-width="1.5"/>
<text x="327.5" y="329" font-size="10.6" text-anchor="middle">9</text>
<line x1="352.8" x2="352.8" y1="314.6" y2="318.40000000000003" stroke="#000" stroke-width="1.5"/>
<text x="352.8" y="329" font-size="10.6" text-anchor="middle">10</text>
<g fill="#505050"><circle cx="291.6" cy="289.1" r="0.95"/><circle cx="323.8" cy="274.5" r="0.95"/><circle cx="286.3" cy="262.9" r="0.95"/><circle cx="269.8" cy="298.3" r="0.95"/><circle cx="287.5" cy="290.3" r="0.95"/><circle cx="265.2" cy="295.6" r="0.95"/><circle cx="278.7" cy="281.1" r="0.95"/><circle cx="257.5" cy="303.0" r="0.95"/><circle cx="303.1" cy="251.4" r="0.95"/><circle cx="260.0" cy="288.3" r="0.95"/><circle cx="268.6" cy="301.3" r="0.95"/><circle cx="270.4" cy="296.3" r="0.95"/><circle cx="300.6" cy="269.9" r="0.95"/><circle cx="285.4" cy="291.3" r="0.95"/><circle cx="284.5" cy="288.9" r="0.95"/><circle cx="297.3" cy="290.5" r="0.95"/><circle cx="284.4" cy="288.9" r="0.95"/><circle cx="283.6" cy="284.4" r="0.95"/><circle cx="287.7" cy="266.1" r="0.95"/><circle cx="283.1" cy="264.6" r="0.95"/><circle cx="279.5" cy="294.2" r="0.95"/><circle cx="286.1" cy="281.7" r="0.95"/><circle cx="288.9" cy="266.2" r="0.95"/><circle cx="302.9" cy="272.2" r="0.95"/><circle cx="279.0" cy="290.4" r="0.95"/><circle cx="307.4" cy="274.5" r="0.95"/><circle cx="263.3" cy="301.2" r="0.95"/><circle cx="275.1" cy="274.3" r="0.95"/><circle cx="282.8" cy="254.1" r="0.95"/><circle cx="295.1" cy="281.3" r="0.95"/><circle cx="277.4" cy="276.1" r="0.95"/><circle cx="280.6" cy="297.5" r="0.95"/><circle cx="293.7" cy="283.6" r="0.95"/><circle cx="303.7" cy="280.5" r="0.95"/><circle cx="254.1" cy="277.6" r="0.95"/><circle cx="314.0" cy="281.4" r="0.95"/><circle cx="265.6" cy="307.8" r="0.95"/><circle cx="298.6" cy="284.7" r="0.95"/><circle cx="274.8" cy="293.2" r="0.95"/><circle cx="318.3" cy="267.8" r="0.95"/><circle cx="296.6" cy="270.7" r="0.95"/><circle cx="301.0" cy="264.5" r="0.95"/><circle cx="273.0" cy="293.4" r="0.95"/><circle cx="272.2" cy="298.8" r="0.95"/><circle cx="303.0" cy="287.4" r="0.95"/><circle cx="283.2" cy="295.3" r="0.95"/><circle cx="274.9" cy="280.0" r="0.95"/><circle cx="277.3" cy="294.9" r="0.95"/><circle cx="292.5" cy="276.7" r="0.95"/><circle cx="297.3" cy="279.6" r="0.95"/><circle cx="256.1" cy="289.7" r="0.95"/><circle cx="292.6" cy="268.8" r="0.95"/><circle cx="270.8" cy="255.4" r="0.95"/><circle cx="264.5" cy="285.4" r="0.95"/><circle cx="285.2" cy="292.6" r="0.95"/><circle cx="297.7" cy="286.3" r="0.95"/><circle cx="246.7" cy="311.0" r="0.95"/><circle cx="291.9" cy="250.5" r="0.95"/><circle cx="260.5" cy="295.0" r="0.95"/><circle cx="308.0" cy="268.3" r="0.95"/><circle cx="278.4" cy="304.3" r="0.95"/><circle cx="255.6" cy="304.0" r="0.95"/><circle cx="278.5" cy="312.8" r="0.95"/><circle cx="257.1" cy="292.7" r="0.95"/><circle cx="277.9" cy="297.5" r="0.95"/><circle cx="277.9" cy="298.1" r="0.95"/><circle cx="299.5" cy="256.3" r="0.95"/><circle cx="318.1" cy="262.4" r="0.95"/><circle cx="296.6" cy="260.3" r="0.95"/><circle cx="312.6" cy="253.2" r="0.95"/><circle cx="304.1" cy="288.5" r="0.95"/><circle cx="258.6" cy="285.7" r="0.95"/><circle cx="283.0" cy="288.8" r="0.95"/><circle cx="270.1" cy="305.5" r="0.95"/><circle cx="307.2" cy="270.8" r="0.95"/><circle cx="267.2" cy="288.8" r="0.95"/><circle cx="289.4" cy="277.7" r="0.95"/><circle cx="320.7" cy="272.6" r="0.95"/><circle cx="263.8" cy="293.5" r="0.95"/><circle cx="274.0" cy="284.0" r="0.95"/><circle cx="287.9" cy="281.0" r="0.95"/><circle cx="275.3" cy="285.5" r="0.95"/><circle cx="276.2" cy="283.5" r="0.95"/><circle cx="279.6" cy="300.8" r="0.95"/><circle cx="292.6" cy="292.7" r="0.95"/><circle cx="307.9" cy="270.9" r="0.95"/><circle cx="292.1" cy="282.9" r="0.95"/><circle cx="283.5" cy="312.8" r="0.95"/><circle cx="304.3" cy="290.3" r="0.95"/><circle cx="300.0" cy="289.8" r="0.95"/><circle cx="282.2" cy="290.8" r="0.95"/><circle cx="267.7" cy="294.5" r="0.95"/><circle cx="292.2" cy="289.8" r="0.95"/><circle cx="264.0" cy="299.8" r="0.95"/><circle cx="288.5" cy="268.6" r="0.95"/><circle cx="298.0" cy="277.5" r="0.95"/><circle cx="268.4" cy="281.0" r="0.95"/><circle cx="284.9" cy="290.1" r="0.95"/><circle cx="299.2" cy="272.0" r="0.95"/><circle cx="292.6" cy="297.3" r="0.95"/><circle cx="274.6" cy="308.3" r="0.95"/><circle cx="287.6" cy="286.0" r="0.95"/><circle cx="299.6" cy="278.0" r="0.95"/><circle cx="278.5" cy="258.2" r="0.95"/><circle cx="267.8" cy="306.5" r="0.95"/><circle cx="274.6" cy="284.1" r="0.95"/><circle cx="278.8" cy="294.0" r="0.95"/><circle cx="266.3" cy="273.3" r="0.95"/><circle cx="274.4" cy="301.9" r="0.95"/><circle cx="282.5" cy="296.7" r="0.95"/><circle cx="280.7" cy="269.1" r="0.95"/><circle cx="277.3" cy="290.4" r="0.95"/><circle cx="278.5" cy="291.5" r="0.95"/><circle cx="297.8" cy="273.9" r="0.95"/><circle cx="279.0" cy="299.0" r="0.95"/><circle cx="282.3" cy="276.1" r="0.95"/><circle cx="284.2" cy="289.2" r="0.95"/><circle cx="255.2" cy="285.4" r="0.95"/><circle cx="260.3" cy="308.2" r="0.95"/><circle cx="278.4" cy="289.2" r="0.95"/><circle cx="285.2" cy="295.5" r="0.95"/><circle cx="279.4" cy="295.6" r="0.95"/><circle cx="255.2" cy="299.1" r="0.95"/><circle cx="273.3" cy="286.3" r="0.95"/><circle cx="282.1" cy="274.1" r="0.95"/><circle cx="295.8" cy="269.2" r="0.95"/><circle cx="304.1" cy="268.7" r="0.95"/><circle cx="281.8" cy="268.4" r="0.95"/><circle cx="269.5" cy="292.6" r="0.95"/><circle cx="298.4" cy="286.1" r="0.95"/><circle cx="296.1" cy="292.7" r="0.95"/><circle cx="275.7" cy="283.3" r="0.95"/><circle cx="296.0" cy="264.5" r="0.95"/><circle cx="283.4" cy="283.7" r="0.95"/><circle cx="294.6" cy="276.3" r="0.95"/><circle cx="263.4" cy="299.9" r="0.95"/><circle cx="307.9" cy="293.7" r="0.95"/><circle cx="294.7" cy="289.2" r="0.95"/><circle cx="300.7" cy="291.0" r="0.95"/><circle cx="285.3" cy="308.5" r="0.95"/><circle cx="283.8" cy="271.7" r="0.95"/><circle cx="260.2" cy="280.3" r="0.95"/><circle cx="272.9" cy="291.7" r="0.95"/><circle cx="270.3" cy="297.5" r="0.95"/><circle cx="263.8" cy="304.2" r="0.95"/><circle cx="303.0" cy="287.5" r="0.95"/><circle cx="299.0" cy="284.2" r="0.95"/><circle cx="290.1" cy="291.4" r="0.95"/><circle cx="291.4" cy="245.4" r="0.95"/><circle cx="295.1" cy="275.5" r="0.95"/><circle cx="276.8" cy="275.7" r="0.95"/><circle cx="306.5" cy="298.9" r="0.95"/><circle cx="262.1" cy="265.5" r="0.95"/><circle cx="291.4" cy="282.8" r="0.95"/><circle cx="293.6" cy="267.1" r="0.95"/><circle cx="297.5" cy="285.5" r="0.95"/><circle cx="317.9" cy="273.1" r="0.95"/><circle cx="270.3" cy="297.7" r="0.95"/><circle cx="282.3" cy="292.3" r="0.95"/><circle cx="281.4" cy="284.3" r="0.95"/><circle cx="299.9" cy="272.5" r="0.95"/><circle cx="273.5" cy="297.5" r="0.95"/><circle cx="303.0" cy="283.5" r="0.95"/><circle cx="275.9" cy="263.3" r="0.95"/><circle cx="278.5" cy="280.0" r="0.95"/><circle cx="283.8" cy="287.3" r="0.95"/><circle cx="269.2" cy="300.9" r="0.95"/><circle cx="304.9" cy="293.5" r="0.95"/><circle cx="289.0" cy="298.8" r="0.95"/><circle cx="280.6" cy="289.3" r="0.95"/><circle cx="258.1" cy="282.0" r="0.95"/><circle cx="281.5" cy="270.6" r="0.95"/><circle cx="269.4" cy="280.5" r="0.95"/><circle cx="322.3" cy="268.0" r="0.95"/><circle cx="274.0" cy="285.0" r="0.95"/><circle cx="286.8" cy="289.3" r="0.95"/><circle cx="282.5" cy="294.3" r="0.95"/><circle cx="291.4" cy="289.8" r="0.95"/><circle cx="270.6" cy="281.4" r="0.95"/><circle cx="281.8" cy="248.7" r="0.95"/><circle cx="280.5" cy="296.4" r="0.95"/><circle cx="275.6" cy="286.0" r="0.95"/><circle cx="273.2" cy="304.2" r="0.95"/><circle cx="311.0" cy="292.8" r="0.95"/><circle cx="309.0" cy="275.0" r="0.95"/><circle cx="267.3" cy="269.9" r="0.95"/><circle cx="281.2" cy="299.2" r="0.95"/><circle cx="285.5" cy="267.7" r="0.95"/><circle cx="295.6" cy="270.4" r="0.95"/><circle cx="312.9" cy="272.2" r="0.95"/><circle cx="290.6" cy="288.3" r="0.95"/><circle cx="260.9" cy="296.2" r="0.95"/><circle cx="310.7" cy="297.9" r="0.95"/><circle cx="306.3" cy="274.3" r="0.95"/><circle cx="269.7" cy="291.5" r="0.95"/><circle cx="313.3" cy="284.0" r="0.95"/><circle cx="297.3" cy="265.0" r="0.95"/><circle cx="270.0" cy="284.5" r="0.95"/><circle cx="293.2" cy="290.1" r="0.95"/><circle cx="295.6" cy="288.2" r="0.95"/><circle cx="275.1" cy="303.3" r="0.95"/><circle cx="290.7" cy="290.4" r="0.95"/><circle cx="275.4" cy="302.3" r="0.95"/><circle cx="262.4" cy="302.5" r="0.95"/><circle cx="296.3" cy="292.7" r="0.95"/><circle cx="307.9" cy="271.4" r="0.95"/><circle cx="287.0" cy="299.5" r="0.95"/><circle cx="316.1" cy="293.3" r="0.95"/><circle cx="293.1" cy="258.2" r="0.95"/><circle cx="281.3" cy="295.8" r="0.95"/><circle cx="284.2" cy="274.0" r="0.95"/><circle cx="306.5" cy="269.0" r="0.95"/><circle cx="267.2" cy="299.9" r="0.95"/><circle cx="287.8" cy="300.0" r="0.95"/><circle cx="280.6" cy="255.4" r="0.95"/><circle cx="267.4" cy="277.6" r="0.95"/><circle cx="269.4" cy="295.8" r="0.95"/><circle cx="283.4" cy="303.7" r="0.95"/><circle cx="282.8" cy="268.8" r="0.95"/><circle cx="296.1" cy="272.1" r="0.95"/><circle cx="271.5" cy="293.1" r="0.95"/><circle cx="287.8" cy="276.0" r="0.95"/><circle cx="306.2" cy="291.7" r="0.95"/><circle cx="312.0" cy="280.2" r="0.95"/><circle cx="280.4" cy="301.5" r="0.95"/><circle cx="283.4" cy="290.5" r="0.95"/><circle cx="264.5" cy="296.7" r="0.95"/><circle cx="286.5" cy="291.5" r="0.95"/><circle cx="297.1" cy="294.6" r="0.95"/><circle cx="298.9" cy="284.3" r="0.95"/><circle cx="290.5" cy="305.1" r="0.95"/><circle cx="286.6" cy="287.8" r="0.95"/><circle cx="299.6" cy="295.5" r="0.95"/><circle cx="306.6" cy="292.4" r="0.95"/><circle cx="305.8" cy="269.7" r="0.95"/><circle cx="272.3" cy="260.1" r="0.95"/><circle cx="265.1" cy="295.3" r="0.95"/><circle cx="287.8" cy="278.4" r="0.95"/><circle cx="288.2" cy="274.0" r="0.95"/><circle cx="291.9" cy="284.0" r="0.95"/><circle cx="269.4" cy="295.8" r="0.95"/><circle cx="299.1" cy="295.5" r="0.95"/><circle cx="286.3" cy="308.4" r="0.95"/><circle cx="273.2" cy="307.9" r="0.95"/><circle cx="304.6" cy="300.7" r="0.95"/><circle cx="280.6" cy="278.4" r="0.95"/><circle cx="294.3" cy="271.7" r="0.95"/><circle cx="301.7" cy="273.1" r="0.95"/><circle cx="298.0" cy="282.7" r="0.95"/><circle cx="284.1" cy="306.1" r="0.95"/><circle cx="287.2" cy="267.3" r="0.95"/><circle cx="272.4" cy="303.5" r="0.95"/><circle cx="286.0" cy="269.9" r="0.95"/><circle cx="304.0" cy="297.5" r="0.95"/><circle cx="291.8" cy="292.4" r="0.95"/><circle cx="289.0" cy="309.8" r="0.95"/><circle cx="299.4" cy="287.3" r="0.95"/><circle cx="287.8" cy="288.7" r="0.95"/><circle cx="267.7" cy="287.1" r="0.95"/><circle cx="276.7" cy="297.2" r="0.95"/><circle cx="295.2" cy="284.4" r="0.95"/><circle cx="273.2" cy="278.4" r="0.95"/><circle cx="274.9" cy="290.9" r="0.95"/><circle cx="296.4" cy="268.2" r="0.95"/><circle cx="303.9" cy="254.1" r="0.95"/><circle cx="285.2" cy="295.8" r="0.95"/><circle cx="311.2" cy="255.0" r="0.95"/><circle cx="279.6" cy="279.2" r="0.95"/><circle cx="278.4" cy="305.7" r="0.95"/><circle cx="301.3" cy="275.2" r="0.95"/></g>
<line x1="246.5" y1="302.6" x2="326.2" y2="269.1" stroke="#000" stroke-width="1.5"/>
<text x="234.5" y="224.8" font-size="8.0"><tspan font-style="italic">r</tspan> = 0.39</text>
<text x="234.5" y="233.5" font-size="8.0"><tspan font-style="italic">P</tspan> &lt; 0.0001</text>
<text x="289.6" y="345.1" font-size="10.6" text-anchor="middle">DHX58</text>
<text transform="translate(197.3,262.5) rotate(-90)" font-size="10.4" text-anchor="middle">CD8<tspan font-size="7" dy="-3.6">+</tspan><tspan dy="3.6"> T cells</tspan></text>
</g>
<g id="panelE">
<text x="373.6" y="212.7" font-size="15.8" font-weight="bold">E</text>
<path d="M402,229.65 V314.4 H515.75" fill="none" stroke="#000" stroke-width="1.5"/>
<line x1="398.2" x2="402" y1="230.4" y2="230.4" stroke="#000" stroke-width="1.5"/>
<text x="397.4" y="233.3" font-size="9.4" text-anchor="end">15</text>
<line x1="398.2" x2="402" y1="258.4" y2="258.4" stroke="#000" stroke-width="1.5"/>
<text x="397.4" y="261.3" font-size="9.4" text-anchor="end">10</text>
<line x1="398.2" x2="402" y1="286.4" y2="286.4" stroke="#000" stroke-width="1.5"/>
<text x="397.4" y="289.3" font-size="9.4" text-anchor="end">5</text>
<line x1="398.2" x2="402" y1="314.4" y2="314.4" stroke="#000" stroke-width="1.5"/>
<text x="397.4" y="317.3" font-size="9.4" text-anchor="end">0</text>
<line x1="402.0" x2="402.0" y1="314.4" y2="318.2" stroke="#000" stroke-width="1.5"/>
<text x="402.0" y="327.2" font-size="9.4" text-anchor="middle">5</text>
<line x1="424.6" x2="424.6" y1="314.4" y2="318.2" stroke="#000" stroke-width="1.5"/>
<text x="424.6" y="327.2" font-size="9.4" text-anchor="middle">6</text>
<line x1="447.2" x2="447.2" y1="314.4" y2="318.2" stroke="#000" stroke-width="1.5"/>
<text x="447.2" y="327.2" font-size="9.4" text-anchor="middle">7</text>
<line x1="469.8" x2="469.8" y1="314.4" y2="318.2" stroke="#000" stroke-width="1.5"/>
<text x="469.8" y="327.2" font-size="9.4" text-anchor="middle">8</text>
<line x1="492.4" x2="492.4" y1="314.4" y2="318.2" stroke="#000" stroke-width="1.5"/>
<text x="492.4" y="327.2" font-size="9.4" text-anchor="middle">9</text>
<line x1="515.0" x2="515.0" y1="314.4" y2="318.2" stroke="#000" stroke-width="1.5"/>
<text x="515.0" y="327.2" font-size="9.4" text-anchor="middle">10</text>
<g fill="#505050"><circle cx="481.4" cy="268.2" r="0.85"/><circle cx="458.9" cy="268.2" r="0.85"/><circle cx="447.8" cy="272.6" r="0.85"/><circle cx="458.5" cy="279.5" r="0.85"/><circle cx="472.3" cy="264.5" r="0.85"/><circle cx="450.0" cy="273.1" r="0.85"/><circle cx="465.4" cy="270.4" r="0.85"/><circle cx="455.2" cy="278.7" r="0.85"/><circle cx="466.0" cy="268.3" r="0.85"/><circle cx="462.2" cy="277.6" r="0.85"/><circle cx="480.9" cy="265.1" r="0.85"/><circle cx="453.3" cy="261.0" r="0.85"/><circle cx="457.9" cy="278.1" r="0.85"/><circle cx="453.0" cy="283.4" r="0.85"/><circle cx="472.7" cy="269.7" r="0.85"/><circle cx="448.4" cy="266.9" r="0.85"/><circle cx="436.1" cy="272.2" r="0.85"/><circle cx="430.5" cy="279.6" r="0.85"/><circle cx="442.2" cy="266.2" r="0.85"/><circle cx="482.4" cy="267.3" r="0.85"/><circle cx="469.9" cy="269.1" r="0.85"/><circle cx="466.2" cy="272.8" r="0.85"/><circle cx="435.3" cy="284.5" r="0.85"/><circle cx="463.7" cy="257.7" r="0.85"/><circle cx="462.2" cy="272.4" r="0.85"/><circle cx="484.4" cy="263.9" r="0.85"/><circle cx="459.9" cy="268.8" r="0.85"/><circle cx="456.7" cy="272.4" r="0.85"/><circle cx="439.0" cy="271.8" r="0.85"/><circle cx="457.2" cy="264.5" r="0.85"/><circle cx="453.5" cy="281.4" r="0.85"/><circle cx="457.1" cy="261.9" r="0.85"/><circle cx="453.3" cy="276.1" r="0.85"/><circle cx="442.3" cy="279.2" r="0.85"/><circle cx="454.4" cy="277.4" r="0.85"/><circle cx="478.8" cy="267.8" r="0.85"/><circle cx="460.0" cy="262.7" r="0.85"/><circle cx="478.9" cy="267.4" r="0.85"/><circle cx="463.0" cy="265.7" r="0.85"/><circle cx="455.9" cy="280.2" r="0.85"/><circle cx="467.4" cy="264.0" r="0.85"/><circle cx="464.1" cy="274.1" r="0.85"/><circle cx="455.8" cy="274.0" r="0.85"/><circle cx="454.4" cy="264.5" r="0.85"/><circle cx="479.2" cy="262.7" r="0.85"/><circle cx="465.9" cy="265.4" r="0.85"/><circle cx="458.3" cy="270.9" r="0.85"/><circle cx="449.4" cy="272.6" r="0.85"/><circle cx="489.1" cy="259.7" r="0.85"/><circle cx="453.9" cy="273.8" r="0.85"/><circle cx="446.8" cy="270.9" r="0.85"/><circle cx="463.8" cy="276.8" r="0.85"/><circle cx="465.1" cy="272.1" r="0.85"/><circle cx="477.8" cy="265.7" r="0.85"/><circle cx="481.8" cy="268.1" r="0.85"/><circle cx="454.6" cy="269.7" r="0.85"/><circle cx="472.8" cy="264.6" r="0.85"/><circle cx="441.8" cy="272.9" r="0.85"/><circle cx="458.8" cy="272.6" r="0.85"/><circle cx="449.7" cy="263.2" r="0.85"/><circle cx="453.2" cy="275.9" r="0.85"/><circle cx="467.1" cy="268.0" r="0.85"/><circle cx="457.5" cy="266.6" r="0.85"/><circle cx="465.1" cy="267.2" r="0.85"/><circle cx="471.6" cy="266.3" r="0.85"/><circle cx="450.1" cy="274.0" r="0.85"/><circle cx="451.4" cy="270.8" r="0.85"/><circle cx="443.9" cy="282.9" r="0.85"/><circle cx="459.7" cy="277.1" r="0.85"/><circle cx="432.0" cy="273.9" r="0.85"/><circle cx="448.9" cy="269.8" r="0.85"/><circle cx="451.3" cy="277.7" r="0.85"/><circle cx="441.6" cy="276.5" r="0.85"/><circle cx="454.8" cy="275.5" r="0.85"/><circle cx="454.7" cy="279.2" r="0.85"/><circle cx="458.7" cy="279.7" r="0.85"/><circle cx="455.9" cy="267.4" r="0.85"/><circle cx="473.3" cy="258.5" r="0.85"/><circle cx="437.4" cy="270.8" r="0.85"/><circle cx="474.9" cy="262.0" r="0.85"/><circle cx="445.9" cy="270.9" r="0.85"/><circle cx="483.7" cy="273.1" r="0.85"/><circle cx="465.0" cy="263.4" r="0.85"/><circle cx="449.1" cy="269.3" r="0.85"/><circle cx="444.0" cy="277.6" r="0.85"/><circle cx="447.4" cy="271.7" r="0.85"/><circle cx="457.3" cy="265.7" r="0.85"/><circle cx="445.7" cy="273.7" r="0.85"/><circle cx="471.5" cy="264.9" r="0.85"/><circle cx="440.5" cy="270.6" r="0.85"/><circle cx="452.0" cy="269.8" r="0.85"/><circle cx="462.6" cy="263.3" r="0.85"/><circle cx="460.1" cy="279.7" r="0.85"/><circle cx="439.9" cy="270.4" r="0.85"/><circle cx="455.0" cy="265.2" r="0.85"/><circle cx="462.2" cy="273.6" r="0.85"/><circle cx="473.2" cy="271.6" r="0.85"/><circle cx="430.7" cy="265.4" r="0.85"/><circle cx="432.6" cy="272.4" r="0.85"/><circle cx="471.2" cy="267.1" r="0.85"/><circle cx="435.7" cy="269.8" r="0.85"/><circle cx="439.0" cy="281.4" r="0.85"/><circle cx="453.6" cy="267.3" r="0.85"/><circle cx="462.6" cy="265.4" r="0.85"/><circle cx="452.5" cy="272.6" r="0.85"/><circle cx="443.1" cy="275.2" r="0.85"/><circle cx="466.5" cy="270.4" r="0.85"/><circle cx="464.9" cy="272.1" r="0.85"/><circle cx="450.5" cy="271.9" r="0.85"/><circle cx="455.9" cy="267.9" r="0.85"/><circle cx="460.9" cy="260.9" r="0.85"/><circle cx="455.5" cy="272.2" r="0.85"/><circle cx="444.4" cy="273.2" r="0.85"/><circle cx="467.8" cy="272.4" r="0.85"/><circle cx="457.8" cy="266.8" r="0.85"/><circle cx="456.8" cy="273.5" r="0.85"/><circle cx="471.7" cy="267.2" r="0.85"/><circle cx="463.9" cy="263.3" r="0.85"/><circle cx="474.0" cy="269.1" r="0.85"/><circle cx="451.4" cy="270.4" r="0.85"/><circle cx="456.7" cy="280.7" r="0.85"/><circle cx="475.8" cy="266.8" r="0.85"/><circle cx="468.5" cy="274.5" r="0.85"/><circle cx="476.0" cy="269.9" r="0.85"/><circle cx="457.0" cy="278.0" r="0.85"/><circle cx="456.2" cy="272.1" r="0.85"/><circle cx="456.0" cy="268.7" r="0.85"/><circle cx="459.3" cy="265.2" r="0.85"/><circle cx="452.2" cy="276.9" r="0.85"/><circle cx="458.2" cy="267.2" r="0.85"/><circle cx="475.4" cy="262.8" r="0.85"/><circle cx="434.6" cy="273.4" r="0.85"/><circle cx="478.3" cy="266.1" r="0.85"/><circle cx="451.5" cy="270.3" r="0.85"/><circle cx="451.7" cy="268.5" r="0.85"/><circle cx="458.3" cy="263.2" r="0.85"/><circle cx="465.3" cy="272.8" r="0.85"/><circle cx="466.7" cy="263.9" r="0.85"/><circle cx="450.8" cy="274.2" r="0.85"/><circle cx="427.2" cy="272.1" r="0.85"/><circle cx="450.5" cy="283.1" r="0.85"/><circle cx="434.5" cy="276.5" r="0.85"/><circle cx="468.8" cy="268.8" r="0.85"/><circle cx="464.9" cy="274.9" r="0.85"/><circle cx="440.3" cy="269.6" r="0.85"/><circle cx="465.2" cy="269.2" r="0.85"/><circle cx="475.9" cy="271.8" r="0.85"/><circle cx="452.8" cy="266.3" r="0.85"/><circle cx="483.4" cy="265.3" r="0.85"/><circle cx="481.3" cy="268.9" r="0.85"/><circle cx="463.0" cy="270.4" r="0.85"/><circle cx="437.0" cy="273.5" r="0.85"/><circle cx="471.1" cy="268.6" r="0.85"/><circle cx="457.5" cy="263.4" r="0.85"/><circle cx="441.6" cy="281.7" r="0.85"/><circle cx="449.6" cy="278.5" r="0.85"/><circle cx="476.8" cy="265.1" r="0.85"/><circle cx="446.8" cy="276.0" r="0.85"/><circle cx="448.2" cy="271.0" r="0.85"/><circle cx="467.2" cy="267.5" r="0.85"/><circle cx="446.2" cy="279.0" r="0.85"/><circle cx="466.6" cy="269.1" r="0.85"/><circle cx="436.2" cy="268.9" r="0.85"/><circle cx="469.0" cy="269.5" r="0.85"/><circle cx="455.0" cy="270.0" r="0.85"/><circle cx="449.2" cy="279.3" r="0.85"/><circle cx="462.9" cy="277.0" r="0.85"/><circle cx="463.8" cy="276.8" r="0.85"/><circle cx="457.2" cy="271.4" r="0.85"/><circle cx="482.7" cy="271.0" r="0.85"/><circle cx="439.3" cy="277.7" r="0.85"/><circle cx="443.3" cy="276.6" r="0.85"/><circle cx="464.2" cy="265.3" r="0.85"/><circle cx="481.0" cy="269.7" r="0.85"/><circle cx="455.7" cy="282.9" r="0.85"/><circle cx="457.4" cy="270.3" r="0.85"/><circle cx="427.3" cy="276.4" r="0.85"/><circle cx="455.8" cy="275.1" r="0.85"/><circle cx="467.0" cy="263.5" r="0.85"/><circle cx="451.9" cy="270.6" r="0.85"/><circle cx="449.6" cy="276.3" r="0.85"/><circle cx="459.6" cy="267.5" r="0.85"/><circle cx="450.9" cy="283.5" r="0.85"/><circle cx="466.4" cy="277.1" r="0.85"/><circle cx="460.2" cy="260.9" r="0.85"/><circle cx="458.3" cy="276.7" r="0.85"/><circle cx="438.7" cy="268.4" r="0.85"/><circle cx="458.3" cy="267.7" r="0.85"/><circle cx="471.1" cy="268.1" r="0.85"/><circle cx="454.3" cy="276.2" r="0.85"/><circle cx="457.6" cy="271.5" r="0.85"/><circle cx="464.0" cy="270.0" r="0.85"/><circle cx="460.7" cy="265.9" r="0.85"/><circle cx="446.5" cy="274.4" r="0.85"/><circle cx="436.7" cy="269.8" r="0.85"/><circle cx="459.0" cy="267.8" r="0.85"/><circle cx="479.4" cy="260.6" r="0.85"/><circle cx="457.7" cy="266.5" r="0.85"/><circle cx="439.1" cy="272.1" r="0.85"/><circle cx="460.4" cy="278.5" r="0.85"/><circle cx="476.6" cy="270.4" r="0.85"/><circle cx="467.8" cy="270.7" r="0.85"/><circle cx="472.0" cy="260.9" r="0.85"/><circle cx="447.2" cy="280.7" r="0.85"/><circle cx="456.7" cy="266.4" r="0.85"/><circle cx="453.5" cy="274.7" r="0.85"/><circle cx="465.1" cy="283.4" r="0.85"/><circle cx="449.5" cy="279.5" r="0.85"/><circle cx="462.5" cy="273.4" r="0.85"/><circle cx="443.4" cy="275.4" r="0.85"/><circle cx="438.6" cy="274.6" r="0.85"/><circle cx="449.2" cy="274.3" r="0.85"/><circle cx="448.8" cy="267.7" r="0.85"/><circle cx="457.0" cy="268.0" r="0.85"/><circle cx="465.0" cy="273.3" r="0.85"/><circle cx="466.2" cy="267.1" r="0.85"/><circle cx="462.8" cy="271.6" r="0.85"/><circle cx="452.7" cy="267.5" r="0.85"/><circle cx="488.1" cy="268.7" r="0.85"/><circle cx="465.7" cy="270.9" r="0.85"/><circle cx="469.1" cy="266.0" r="0.85"/><circle cx="472.9" cy="282.0" r="0.85"/><circle cx="450.3" cy="277.2" r="0.85"/><circle cx="457.0" cy="274.5" r="0.85"/><circle cx="449.8" cy="268.7" r="0.85"/><circle cx="484.3" cy="279.8" r="0.85"/><circle cx="454.3" cy="269.7" r="0.85"/><circle cx="458.6" cy="272.2" r="0.85"/><circle cx="440.1" cy="279.1" r="0.85"/><circle cx="468.3" cy="262.9" r="0.85"/><circle cx="459.8" cy="274.5" r="0.85"/><circle cx="459.8" cy="271.4" r="0.85"/><circle cx="465.9" cy="268.3" r="0.85"/><circle cx="450.1" cy="271.2" r="0.85"/><circle cx="442.5" cy="269.4" r="0.85"/><circle cx="474.5" cy="273.3" r="0.85"/><circle cx="464.2" cy="274.4" r="0.85"/><circle cx="473.0" cy="262.8" r="0.85"/><circle cx="455.4" cy="265.9" r="0.85"/><circle cx="452.7" cy="275.0" r="0.85"/><circle cx="450.8" cy="272.7" r="0.85"/><circle cx="454.1" cy="270.5" r="0.85"/><circle cx="450.2" cy="268.2" r="0.85"/><circle cx="472.3" cy="270.2" r="0.85"/><circle cx="439.1" cy="270.6" r="0.85"/><circle cx="473.9" cy="268.1" r="0.85"/><circle cx="441.1" cy="272.6" r="0.85"/><circle cx="479.2" cy="276.0" r="0.85"/><circle cx="465.0" cy="270.7" r="0.85"/><circle cx="446.9" cy="270.2" r="0.85"/><circle cx="440.9" cy="272.5" r="0.85"/><circle cx="476.3" cy="265.9" r="0.85"/><circle cx="446.6" cy="282.1" r="0.85"/><circle cx="441.1" cy="283.5" r="0.85"/><circle cx="480.2" cy="267.3" r="0.85"/><circle cx="444.3" cy="280.1" r="0.85"/><circle cx="444.0" cy="275.1" r="0.85"/><circle cx="441.1" cy="265.3" r="0.85"/><circle cx="448.4" cy="276.6" r="0.85"/><circle cx="462.7" cy="262.1" r="0.85"/><circle cx="476.5" cy="269.3" r="0.85"/><circle cx="462.0" cy="269.0" r="0.85"/><circle cx="465.7" cy="267.6" r="0.85"/><circle cx="445.7" cy="279.6" r="0.85"/><circle cx="460.9" cy="276.1" r="0.85"/><circle cx="477.0" cy="266.5" r="0.85"/><circle cx="444.6" cy="274.9" r="0.85"/><circle cx="451.6" cy="272.5" r="0.85"/><circle cx="471.3" cy="275.3" r="0.85"/><circle cx="433.2" cy="273.8" r="0.85"/><circle cx="456.1" cy="270.1" r="0.85"/><circle cx="464.5" cy="270.2" r="0.85"/><circle cx="469.3" cy="272.9" r="0.85"/><circle cx="459.4" cy="274.6" r="0.85"/><circle cx="443.2" cy="270.4" r="0.85"/><circle cx="466.2" cy="278.9" r="0.85"/><circle cx="443.3" cy="272.0" r="0.85"/><circle cx="473.0" cy="270.9" r="0.85"/><circle cx="456.0" cy="278.3" r="0.85"/><circle cx="470.6" cy="264.6" r="0.85"/><circle cx="471.2" cy="264.7" r="0.85"/><circle cx="454.0" cy="267.5" r="0.85"/><circle cx="459.6" cy="263.5" r="0.85"/><circle cx="448.5" cy="275.3" r="0.85"/><circle cx="467.5" cy="262.0" r="0.85"/><circle cx="460.5" cy="273.7" r="0.85"/><circle cx="456.9" cy="273.4" r="0.85"/><circle cx="484.2" cy="260.5" r="0.85"/><circle cx="475.6" cy="265.4" r="0.85"/><circle cx="451.0" cy="265.9" r="0.85"/></g>
<line x1="420.1" y1="278.6" x2="491.3" y2="262.3" stroke="#000" stroke-width="1.3"/>
<text x="410.5" y="234.2" font-size="7.8"><tspan font-style="italic">r</tspan> = 0.465</text>
<text x="410.5" y="242.0" font-size="7.8"><tspan font-style="italic">P</tspan> &lt; 0.0001</text>
<text x="458.5" y="341.2" font-size="9.4" text-anchor="middle">DHX58</text>
<text transform="translate(382.3,270) rotate(-90)" font-size="9" text-anchor="middle">CD8A</text>
</g>
</svg>
</body></html>
